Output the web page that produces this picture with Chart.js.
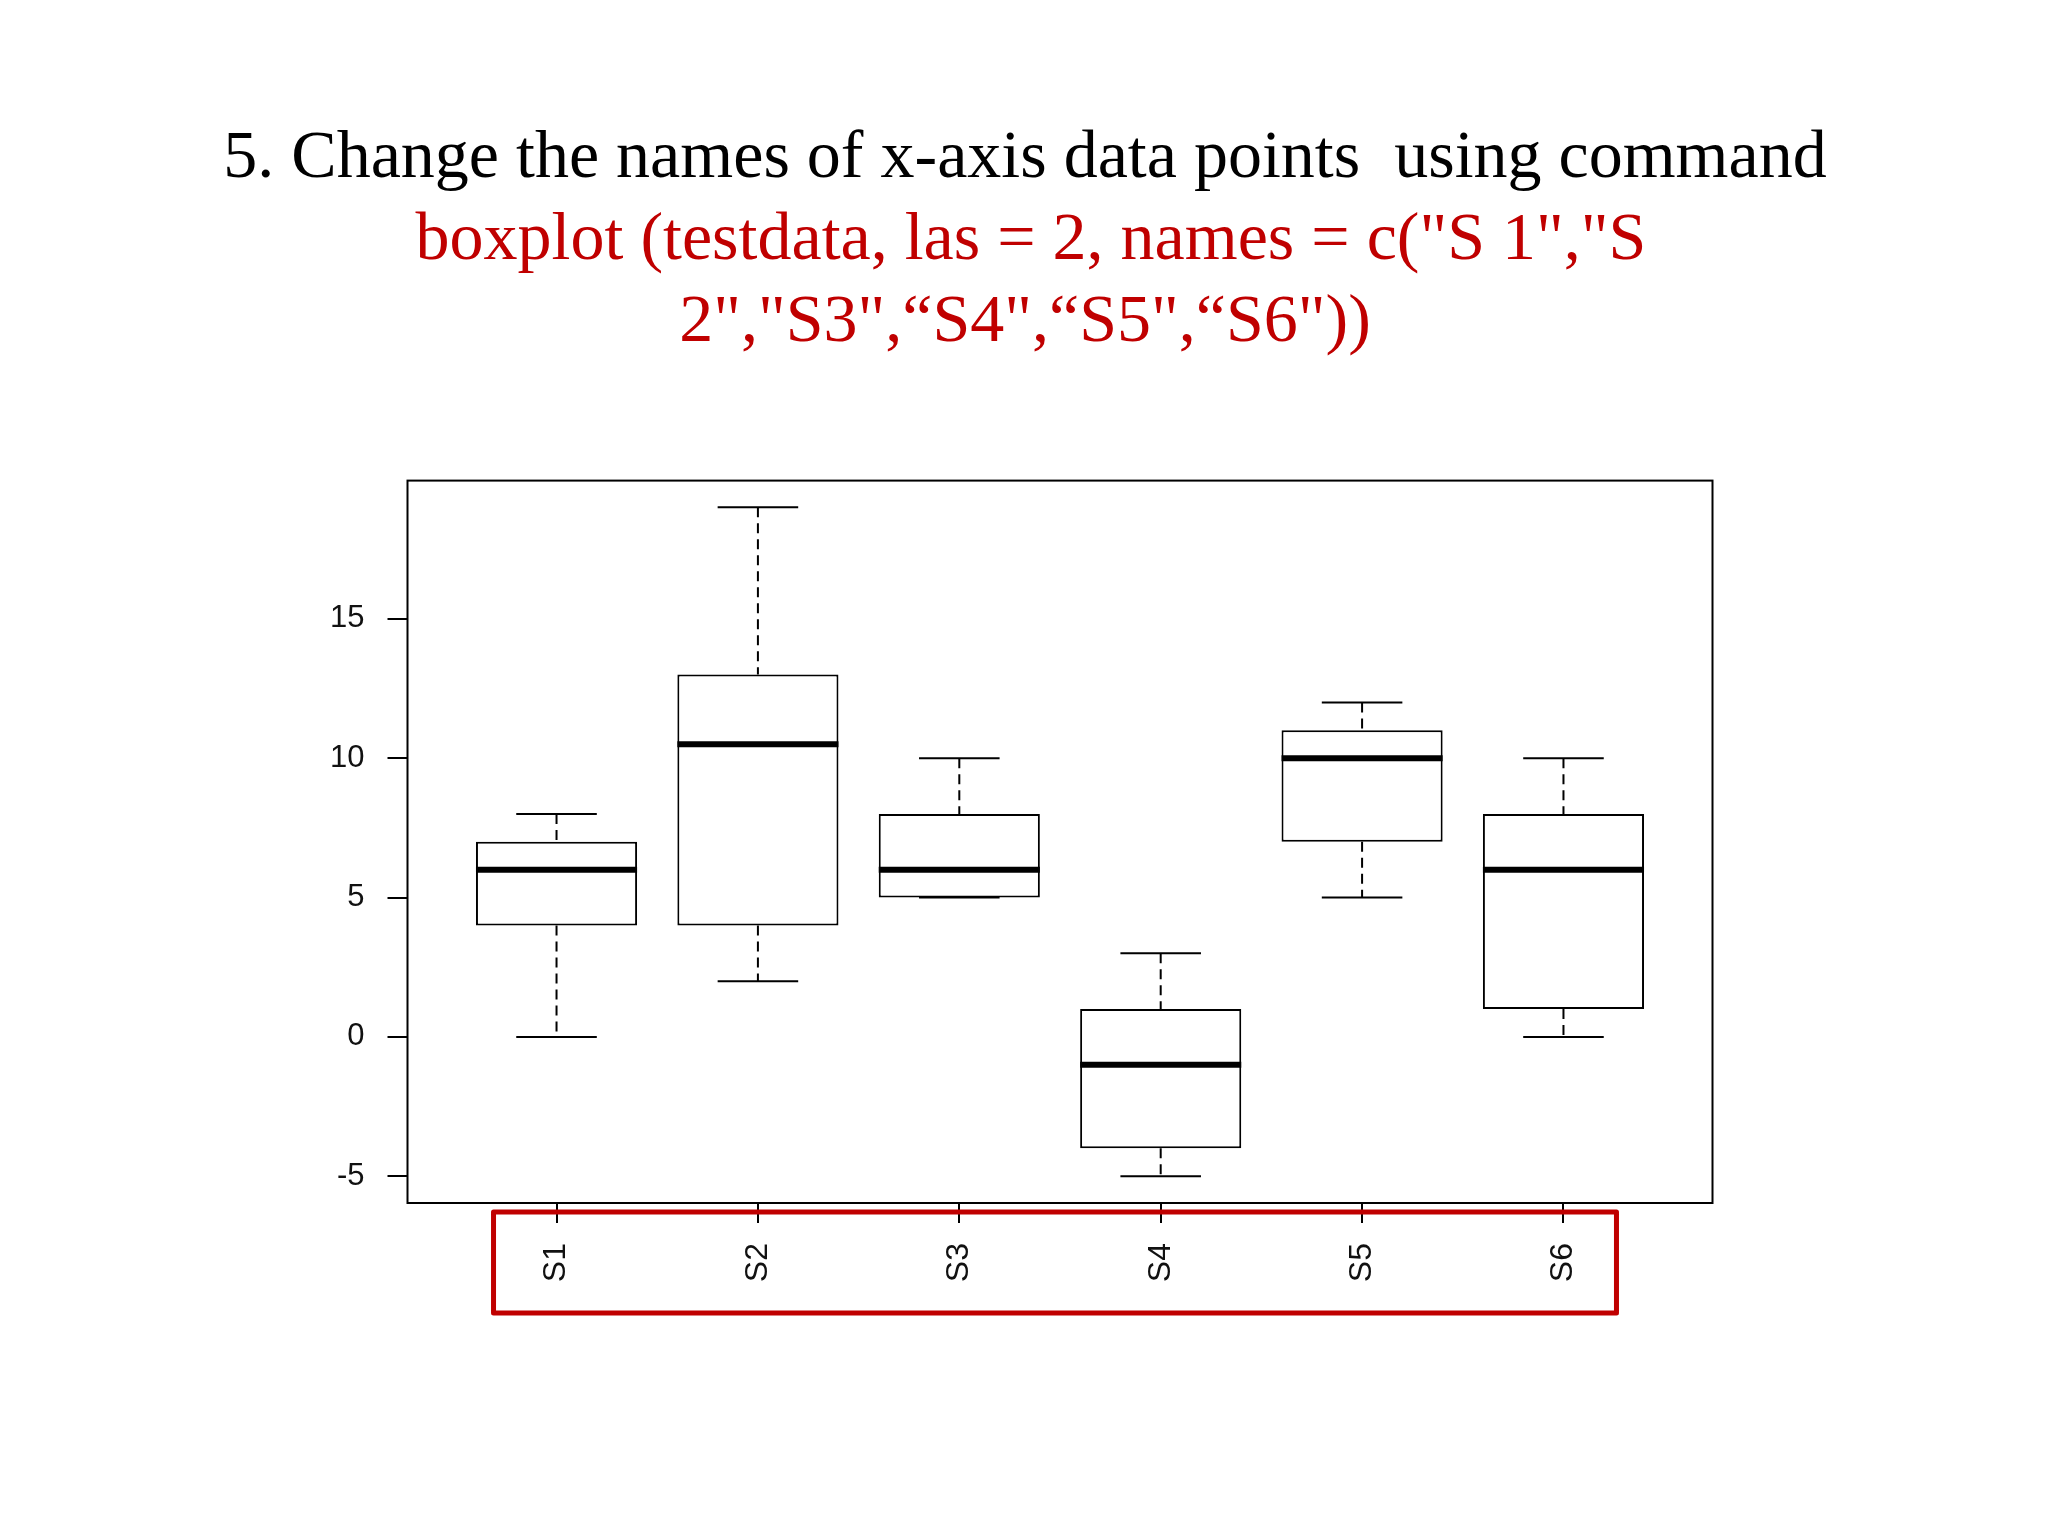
<!DOCTYPE html>
<html>
<head>
<meta charset="utf-8">
<script src="https://cdn.jsdelivr.net/npm/chart.js@4.4.1/dist/chart.umd.min.js"></script>
<style>
  html, body { margin: 0; padding: 0; background: #ffffff; }
  #c { display: block; }
</style>
</head>
<body>
<canvas id="c" width="2048" height="1536" style="width:2048px;height:1536px"></canvas>
<script>
// ---- data ----
const categories = ["S1", "S2", "S3", "S4", "S5", "S6"];
const positions  = [1, 2, 3, 4, 5, 6];
const whiskerMin = [0, 2, 5, -5, 5, 0];
const quartile1  = [4, 4, 5, -4, 7, 1];
const medians    = [6, 10.5, 6, -1, 10, 6];
const quartile3  = [7, 13, 8, 1, 11, 8];
const whiskerMax = [8, 19, 10, 3, 12, 10];
const yTicks     = [-5, 0, 5, 10, 15];
const titleLines = [
  "5. Change the names of x-axis data points  using command",
  "boxplot (testdata, las = 2, names = c(\"S 1\",\"S",
  "2\",\"S3\",\u201CS4\",\u201CS5\",\u201CS6\"))"
];

// R-style axis ranges (4% expansion)
const xMin = 0.5 - 0.24, xMax = 6.5 + 0.24;
const yMin = -5 - 0.96, yMax = 19 + 0.96;

const boxData = positions.map((p, i) => ({ x: p, y: [quartile1[i], quartile3[i]] }));

const boxPlugin = {
  id: 'boxExtras',
  beforeDraw(chart) {
    const ctx = chart.ctx;
    ctx.save();
    ctx.fillStyle = '#ffffff';
    ctx.fillRect(0, 0, chart.width, chart.height);
    ctx.restore();
  },
  afterDatasetsDraw(chart) {
    const ctx = chart.ctx;
    const xs = chart.scales.x, ys = chart.scales.y;
    ctx.save();
    ctx.strokeStyle = '#000000';
    for (let i = 0; i < positions.length; i++) {
      const xc = xs.getPixelForValue(positions[i]);
      const capL = xs.getPixelForValue(positions[i] - 0.2);
      const capR = xs.getPixelForValue(positions[i] + 0.2);
      const boxL = xs.getPixelForValue(positions[i] - 0.4);
      const boxR = xs.getPixelForValue(positions[i] + 0.4);
      // whiskers (dashed)
      ctx.lineWidth = 2;
      ctx.setLineDash([10, 6]);
      ctx.beginPath();
      ctx.moveTo(xc, ys.getPixelForValue(whiskerMax[i]));
      ctx.lineTo(xc, ys.getPixelForValue(quartile3[i]));
      ctx.moveTo(xc, ys.getPixelForValue(quartile1[i]));
      ctx.lineTo(xc, ys.getPixelForValue(whiskerMin[i]));
      ctx.stroke();
      // caps
      ctx.setLineDash([]);
      ctx.beginPath();
      ctx.moveTo(capL, ys.getPixelForValue(whiskerMax[i]));
      ctx.lineTo(capR, ys.getPixelForValue(whiskerMax[i]));
      ctx.moveTo(capL, ys.getPixelForValue(whiskerMin[i]));
      ctx.lineTo(capR, ys.getPixelForValue(whiskerMin[i]));
      ctx.stroke();
      // median
      ctx.lineWidth = 6;
      ctx.beginPath();
      ctx.moveTo(boxL, ys.getPixelForValue(medians[i]));
      ctx.lineTo(boxR, ys.getPixelForValue(medians[i]));
      ctx.stroke();
    }
    ctx.restore();
  },
  afterDraw(chart) {
    const ctx = chart.ctx;
    const a = chart.chartArea;
    const xs = chart.scales.x;
    ctx.save();
    // plot frame
    ctx.strokeStyle = '#000000';
    ctx.lineWidth = 2;
    ctx.strokeRect(a.left, a.top, a.right - a.left, a.bottom - a.top);
    // red highlight around x labels
    ctx.strokeStyle = '#C00000';
    ctx.lineWidth = 5;
    ctx.lineJoin = 'round';
    const rl = xs.getPixelForValue(positions[0]) - 63;
    const rr = xs.getPixelForValue(positions[positions.length - 1]) + 53;
    ctx.strokeRect(rl, a.bottom + 9, rr - rl, 101);
    // title
    ctx.textAlign = 'center';
    ctx.textBaseline = 'alphabetic';
    ctx.font = '68px "Liberation Serif", "Times New Roman", serif';
    ctx.fillStyle = '#000000';
    ctx.fillText(titleLines[0], 1025, 177);
    ctx.fillStyle = '#C00000';
    ctx.fillText(titleLines[1], 1031, 259);
    ctx.fillText(titleLines[2], 1025, 341);
    ctx.restore();
  }
};

new Chart(document.getElementById('c'), {
  type: 'bar',
  data: {
    datasets: [{
      data: boxData,
      backgroundColor: '#ffffff',
      borderColor: '#000000',
      borderWidth: 2,
      borderSkipped: false,
      categoryPercentage: 0.8,
      barPercentage: 1.0
    }]
  },
  options: {
    responsive: false,
    animation: false,
    devicePixelRatio: 1,
    layout: { padding: { left: 250.5, right: 335.5, top: 480.6, bottom: 213 } },
    plugins: { legend: { display: false }, tooltip: { enabled: false }, title: { display: false } },
    scales: {
      x: {
        type: 'linear',
        min: xMin,
        max: xMax,
        offset: false,
        afterBuildTicks: (s) => { s.ticks = positions.map(v => ({ value: v })); },
        afterFit: (s) => { s.height = 120; },
        border: { display: false },
        grid: { offset: false, drawOnChartArea: false, drawTicks: true, tickLength: 20, color: '#000000', lineWidth: 2 },
        ticks: {
          autoSkip: false,
          minRotation: 90,
          maxRotation: 90,
          padding: 20,
          color: '#111111',
          font: { family: '"Liberation Sans", Arial, sans-serif', size: 32 },
          callback: (v) => { const i = positions.indexOf(v); return i >= 0 ? categories[i] : ''; }
        }
      },
      y: {
        type: 'linear',
        min: yMin,
        max: yMax,
        afterBuildTicks: (s) => { s.ticks = yTicks.map(v => ({ value: v })); },
        afterFit: (s) => { s.width = 157; },
        border: { display: false },
        grid: { drawOnChartArea: false, drawTicks: true, tickLength: 20, color: '#000000', lineWidth: 2 },
        ticks: {
          padding: 23,
          color: '#111111',
          font: { family: '"Liberation Sans", Arial, sans-serif', size: 31 },
          callback: (v) => String(v)
        }
      }
    }
  },
  plugins: [boxPlugin]
});
</script>
</body>
</html>
